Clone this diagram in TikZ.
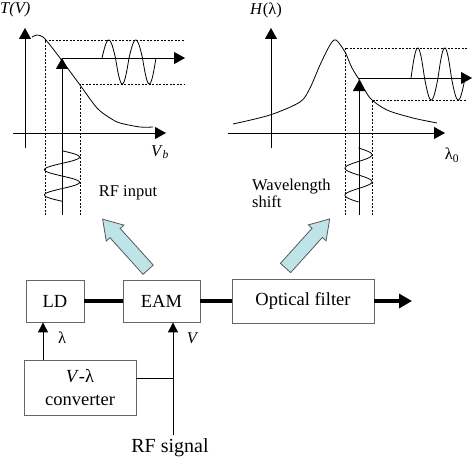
\documentclass[tikz,border=0pt]{standalone}
\usepackage{fontspec}
\setmainfont{Liberation Serif}
\usetikzlibrary{arrows.meta,shapes.arrows}
\definecolor{hintblue}{RGB}{190,228,232}
\tikzset{blk/.style = {draw=gray!80!black,line width=0.8pt,inner sep=0pt,align=center,
                       font=\fontsize{18.5}{23}\selectfont},
         ax/.style = {line width=0.8pt,-{Triangle[length=11pt,width=12pt]}},
         sig/.style = {line width=1pt,-{Triangle[length=10pt,width=10pt]}},
         guide/.style = {line width=0.7pt,dash pattern=on 2pt off 1.5pt},
         bus/.style = {line width=4pt},
         lbl/.style = {font=\fontsize{16.5}{17}\selectfont,inner sep=0pt},
         hint/.style = {single arrow,draw=gray!70!black,fill=hintblue,line width=0.8pt,
                        inner xsep=0pt,inner ysep=6.5pt,minimum width=23pt,
                        single arrow head extend=5pt,single arrow tip angle=65}}
\begin{document}
\begin{tikzpicture}[x=1pt,y=-1pt]
    \useasboundingbox (0,0) rectangle (474,460);

    % transfer curve of the modulator
    \begin{scope}
        \draw[ax] (25,148) -- (25,28);
        \draw[ax] (13,133) -- (166,133);
        \draw[line width=0.8pt] plot[smooth] coordinates {(32,37) (37,35) (43,37) (50,45)
            (63,62) (80,85) (97,108) (110,118) (120,123) (140,127) (153,127)};
        \draw[guide] (45,215) -- (45,40) -- (185,40);
        \draw[guide] (80,215) -- (80,84) -- (185,84);
        \draw[ax] (62,215) -- (62,58);
        \draw[ax] (62,58) -- (185,58);
        \draw[line width=0.8pt] plot[domain=0:720,samples=90]
            ({102+\x/360*27},{58-22*sin(\x)+4*abs(sin(\x))});
        \draw[line width=0.8pt] plot[domain=0:720,samples=90]
            ({62+17.5*sin(\x)},{150.75+\x/360*25.25});

        \node[lbl,anchor=west] (Tlab) at (0,10) {\itshape T(V)};
        \node[lbl] (Vb) at (160,152) {\textit{V}\textsubscript{\textit{b}}};
        \node[lbl] (rfin) at (128,193) {RF input};
    \end{scope}

    % filter response
    \begin{scope}
        \draw[ax] (271,148) -- (271,28);
        \draw[ax] (228,133) -- (445,133);
        \draw[line width=0.8pt] plot[smooth] coordinates {(233,124) (270,115) (300,102)
            (310,88) (320,65) (330,45) (336,40) (345,52) (352,68) (360,81) (370,98)
            (387,110) (413,118) (437,123)};
        \draw[guide] (345,215) -- (345,48) -- (467,48);
        \draw[guide] (372,215) -- (372,100) -- (467,100);
        \draw[ax] (359,215) -- (359,80);
        \draw[ax] (359,78) -- (472,78);
        \draw[line width=0.8pt] plot[domain=0:720,samples=90]
            ({411+\x/360*27},{78-26*sin(\x)-4*abs(sin(\x))});
        \draw[line width=0.8pt] plot[domain=0:720,samples=90]
            ({358.5+13.5*sin(\x)},{148+\x/360*27});

        \node[lbl] (Hlab) at (266,10) {\textit{H}(λ)};
        \node[lbl] (lam0) at (452,155) {λ\textsubscript{0}};
        \node[lbl,align=left,anchor=west] (wls) at (252,193) {Wavelength\\shift};
    \end{scope}

    % hints
    \node[hint,minimum height=68pt,rotate=132] (hintL) at (129,248.5) {};
    \node[hint,minimum height=66pt,rotate=48] (hintR) at (304,247.5) {};

    % blocks
    \node[blk,minimum width=58pt,minimum height=42pt] (LD) at (55,301) {LD};
    \node[blk,minimum width=77pt,minimum height=42pt] (EAM) at (161.5,301) {EAM};
    \node[blk,minimum width=142pt,minimum height=44pt] (OF) at (303,301) {Optical filter};
    \node[blk,minimum width=112pt,minimum height=55pt] (conv) at (80,387.5)
        {\textit{V}-λ\\converter};

    \coordinate (out) at (412,301);
    \coordinate (LDin) at (43,0);
    \coordinate (rf) at (173,435);
    \coordinate (tap) at (173,378);

    \draw[bus] (LD) -- (EAM);
    \draw[bus] (EAM) -- (OF);
    \draw[bus,-{Triangle[length=13pt,width=14pt]}] (OF.east) -- (out);
    \draw[sig] (conv.north -| LDin) -- (LD.south -| LDin);
    \draw[sig] (rf) -- (EAM.south -| rf);
    \draw[line width=1pt] (conv.east |- tap) -- (tap);

    \node[lbl] (lamlab) at (62,338) {λ};
    \node[lbl] (Vlab) at (192,338) {\itshape V};
    \node[font=\fontsize{20}{22}\selectfont,inner sep=0pt] (rfsig) at (170,448) {RF signal};
\end{tikzpicture}
\end{document}
